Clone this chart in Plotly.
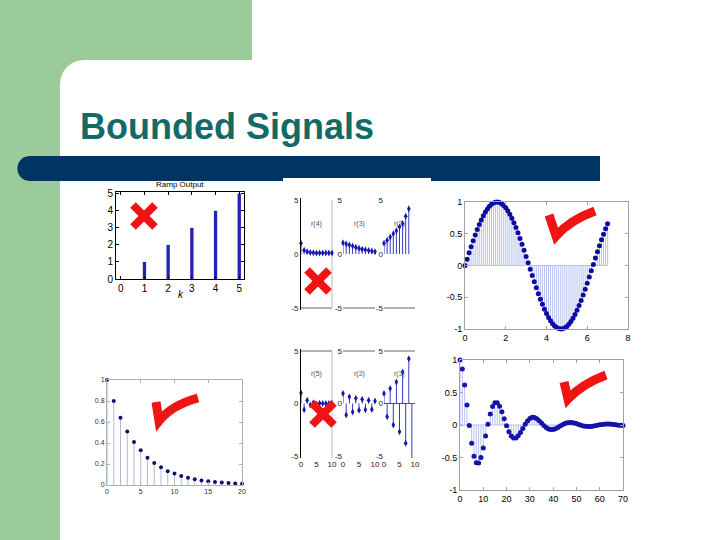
import plotly.graph_objects as go

W, H = 720, 540

# ---- data ----
ramp_k = [0, 1, 2, 3, 4, 5]
ramp_y = [0, 1, 2, 3, 4, 5]

decay_n = list(range(21))
decay_y = [1.0, 0.8, 0.64, 0.51, 0.41, 0.33, 0.26, 0.21, 0.17, 0.13, 0.11,
           0.086, 0.069, 0.055, 0.044, 0.035, 0.028, 0.023, 0.018, 0.014, 0.012]

sine_t = [i / 10 for i in range(71)]
sine_y = [0.0, 0.1, 0.199, 0.296, 0.389, 0.479, 0.565, 0.644, 0.717, 0.783, 0.841,
          0.891, 0.932, 0.964, 0.985, 0.997, 1.0, 0.992, 0.974, 0.946, 0.909,
          0.863, 0.808, 0.746, 0.675, 0.598, 0.516, 0.427, 0.335, 0.239, 0.141,
          0.042, -0.058, -0.158, -0.256, -0.351, -0.443, -0.53, -0.612, -0.688, -0.757,
          -0.818, -0.872, -0.916, -0.952, -0.978, -0.994, -1.0, -0.996, -0.982, -0.959,
          -0.926, -0.883, -0.832, -0.773, -0.706, -0.631, -0.551, -0.465, -0.374, -0.279,
          -0.182, -0.083, 0.017, 0.117, 0.215, 0.312, 0.405, 0.494, 0.578, 0.657]

damp_n = list(range(71))
damp_y = [1.0, 0.863, 0.615, 0.308, -0.007, -0.281, -0.479, -0.581, -0.584, -0.5, -0.352,
          -0.171, 0.012, 0.171, 0.284, 0.341, 0.341, 0.29, 0.202, 0.095, -0.012,
          -0.104, -0.169, -0.201, -0.199, -0.167, -0.116, -0.053, 0.01, 0.063, 0.1,
          0.118, 0.116, 0.097, 0.066, 0.029, -0.007, -0.038, -0.06, -0.069, -0.068,
          -0.056, -0.038, -0.016, 0.005, 0.023, 0.035, 0.04, 0.04, 0.032, 0.022,
          0.009, -0.004, -0.014, -0.021, -0.024, -0.023, -0.019, -0.012, -0.005, 0.002,
          0.009, 0.013, 0.015, 0.014, 0.011, 0.007, 0.003, -0.002, -0.005, -0.007]

# middle picture: six small panels (top row, bottom row)
mid_top = [
    [1.0, 0.35, 0.2, 0.15, 0.12, 0.1, 0.1, 0.1, 0.1, 0.1, 0.1],
    [1.05, 0.92, 0.83, 0.74, 0.63, 0.54, 0.45, 0.39, 0.33, 0.27, 0.21],
    [1.0, 1.27, 1.58, 1.88, 2.17, 2.53, 2.83, 3.5, 4.2],
]
mid_bot = [
    [1.0, -0.6, 0.3, -0.15, 0.08, -0.04, 0.02, -0.01, 0.0, 0.0, 0.0],
    [0.95, -1.1, 0.65, -0.8, 0.5, -0.65, 0.4, -0.6, 0.32, -0.57, 0.25],
    [0.95, -1.27, 1.42, -2.06, 2.06, -2.69, 3.0, -3.8, 4.27, -5.3],
]
mid_lab_top = ["r(4)", "r(3)", "r(2)"]
mid_lab_bot = ["r(5)", "r(2)", "r(3)"]

FONT = "Liberation Sans, Arial, sans-serif"


def dom(x0, x1, y0, y1):
    # pixel box -> paper domains
    return [x0 / W, x1 / W], [1 - y1 / H, 1 - y0 / H]


def stem_xy(x, y):
    xs, ys = [], []
    for a, b in zip(x, y):
        xs += [a, a, None]
        ys += [0, b, None]
    return xs, ys


def ppath(pts, close=True):
    # pixel points -> paper path (straight segments)
    s = "M" + " L".join("%.5f,%.5f" % (x / W, 1 - y / H) for x, y in pts)
    return s + (" Z" if close else "")


fig = go.Figure()
layout = {}

# pixel overlay axis for the slide decoration
layout["xaxis"] = dict(domain=[0, 1], range=[0, W], visible=False, fixedrange=True,
                       automargin=False)
layout["yaxis"] = dict(domain=[0, 1], range=[H, 0], visible=False, fixedrange=True,
                       automargin=False)
fig.add_trace(go.Scatter(x=[0], y=[0], mode="markers", marker=dict(opacity=0),
                         hoverinfo="skip", xaxis="x", yaxis="y"))


def add_axes(i, box, xr, yr, xt, yt, xlab=None, ylab=None, linecolor="black",
             fsize=9, fcolor="black", mirror="ticks", showline=True, ticks="inside"):
    dx, dy = dom(*box)
    xl = dict(domain=dx, range=xr, anchor="y%d" % i, tickvals=xt, ticktext=xlab,
              ticks=ticks, ticklen=3, tickcolor=linecolor, showline=showline,
              linecolor=linecolor, linewidth=1, mirror=mirror, showgrid=False,
              zeroline=False, automargin=False,
              tickfont=dict(family=FONT, size=fsize, color=fcolor))
    yl = dict(domain=dy, range=yr, anchor="x%d" % i, tickvals=yt, ticktext=ylab,
              ticks=ticks, ticklen=3, tickcolor=linecolor, showline=showline,
              linecolor=linecolor, linewidth=1, mirror=mirror, showgrid=False,
              zeroline=False, automargin=False,
              tickfont=dict(family=FONT, size=fsize, color=fcolor))
    layout["xaxis%d" % i] = xl
    layout["yaxis%d" % i] = yl


# ---- ramp output (top left) ----
add_axes(2, (116, 244, 192, 279), [-0.2, 5.2], [0, 5.1], ramp_k, [0, 1, 2, 3, 4, 5],
         fsize=10)
fig.add_trace(go.Bar(x=ramp_k, y=ramp_y, width=0.14, marker=dict(color="#2323b5", line_width=0),
                     xaxis="x2", yaxis="y2"))

# ---- middle picture: 6 panels ----
cols = [(301, 332), (343, 375), (384, 415)]
rows = [(198, 310), (349, 458)]
idx = 3
for r, (series, labels) in enumerate([(mid_top, mid_lab_top), (mid_bot, mid_lab_bot)]):
    for c in range(3):
        x0, x1 = cols[c]
        y0, y1 = rows[r]
        add_axes(idx, (x0, x1, y0, y1), [0, 10], [-5.2, 5.2],
                 [0, 5, 10] if r == 1 else [], [-5, 0, 5],
                 xlab=["0", "5", "10"] if r == 1 else None, ylab=["-5", "0", "5"],
                 fsize=8, fcolor="#222", showline=False, ticks="", mirror=False)
        if c == 0:
            layout["yaxis%d" % idx].update(showline=True, linecolor="black")
        if r == 1 and c == 2:
            layout["yaxis%d" % idx].update(zeroline=True, zerolinecolor="#555", zerolinewidth=1)
        vals = series[c]
        n = list(range(len(vals)))
        sx, sy = stem_xy(n, vals)
        fig.add_trace(go.Scatter(x=sx, y=sy, mode="lines", line=dict(color="#3a3ac0", width=1),
                                 xaxis="x%d" % idx, yaxis="y%d" % idx, cliponaxis=False))
        fig.add_trace(go.Scatter(x=n, y=vals, mode="markers", cliponaxis=False,
                                 marker=dict(color="#1818b0", size=5, symbol="diamond-tall"),
                                 xaxis="x%d" % idx, yaxis="y%d" % idx))
        layout.setdefault("annotations", []).append(dict(
            x=5, y=2.8, xref="x%d" % idx, yref="y%d" % idx, text=labels[c], showarrow=False,
            font=dict(family=FONT, size=7, color="#555")))
        idx += 1

# ---- sine (top right) ----
add_axes(9, (465, 628, 202, 329), [0, 8], [-1, 1], [0, 2, 4, 6, 8], [-1, -0.5, 0, 0.5, 1],
         ylab=["-1", "-0.5", "0", "0.5", "1"], linecolor="#a0a0a0", fsize=9)
sx, sy = stem_xy(sine_t, sine_y)
fig.add_trace(go.Scatter(x=sx, y=sy, mode="lines", line=dict(color="#b9bff0", width=1),
                         xaxis="x9", yaxis="y9"))
fig.add_trace(go.Scatter(x=[sine_t[0], sine_t[-1]], y=[0, 0], mode="lines",
                         line=dict(color="#b9bff0", width=1), xaxis="x9", yaxis="y9"))
fig.add_trace(go.Scatter(x=sine_t, y=sine_y, mode="markers", cliponaxis=False,
                         marker=dict(color="#0c0ca5", size=5), xaxis="x9", yaxis="y9"))

# ---- geometric decay (bottom left) ----
add_axes(10, (107, 242, 380, 485), [0, 20], [0, 1], [0, 5, 10, 15, 20],
         [0, 0.2, 0.4, 0.6, 0.8, 1], ylab=["0", "0.2", "0.4", "0.6", "0.8", "1"],
         linecolor="#b0b0b0", fsize=7, fcolor="#333")
sx, sy = stem_xy(decay_n, decay_y)
fig.add_trace(go.Scatter(x=sx, y=sy, mode="lines", line=dict(color="#b4bad6", width=1),
                         xaxis="x10", yaxis="y10"))
fig.add_trace(go.Scatter(x=decay_n, y=decay_y, mode="markers", cliponaxis=False,
                         marker=dict(color="#10106e", size=4), xaxis="x10", yaxis="y10"))

# ---- damped oscillation (bottom right) ----
add_axes(11, (460, 623, 360, 490), [0, 70], [-1, 1], [0, 10, 20, 30, 40, 50, 60, 70],
         [-1, -0.5, 0, 0.5, 1], ylab=["-1", "-0.5", "0", "0.5", "1"],
         linecolor="#a0a0a0", fsize=9)
sx, sy = stem_xy(damp_n, damp_y)
fig.add_trace(go.Scatter(x=sx, y=sy, mode="lines", line=dict(color="#b9bff0", width=1),
                         xaxis="x11", yaxis="y11"))
fig.add_trace(go.Scatter(x=[damp_n[0], damp_n[-1]], y=[0, 0], mode="lines",
                         line=dict(color="#b9bff0", width=1), xaxis="x11", yaxis="y11"))
fig.add_trace(go.Scatter(x=damp_n, y=damp_y, mode="markers", cliponaxis=False,
                         marker=dict(color="#1414a8", size=5), xaxis="x11", yaxis="y11"))

# ---- slide decoration ----
green = "#9ccb9b"
navy = "#003563"
red = "#f01414"
# green band with the rounded inner corner, in paper coords (not clipped)
arc = [(0, 1), (0.259, 0.966), (0.5, 0.866), (0.707, 0.707), (0.866, 0.5), (0.966, 0.259), (1, 0)]
corner = [(84 - 24 * c, 84 - 24 * s) for c, s in arc]
green_pts = [(-30, -30), (252, -30), (252, 60)] + corner + [(60, 570), (-30, 570)]
shapes = [
    dict(type="path", layer="below", xref="paper", yref="paper", line_width=0, fillcolor=green,
         path=ppath(green_pts)),
    dict(type="path", layer="below", xref="x", yref="y", line_width=0, fillcolor=navy,
         path="M30.5,156 H600 V181 H30.5 C13,181 13,156 30.5,156 Z"),
    dict(type="rect", layer="below", xref="x", yref="y", line_width=0, fillcolor="white",
         x0=283, x1=431, y0=178, y1=482),
    # middle picture frame lines
    dict(type="line", layer="below", xref="x", yref="y", x0=301, x1=332, y0=308, y1=308,
         line=dict(color="#666", width=1)),
    dict(type="line", layer="below", xref="x", yref="y", x0=343, x1=375, y0=308, y1=308,
         line=dict(color="#666", width=1)),
    dict(type="line", layer="below", xref="x", yref="y", x0=384, x1=415, y0=308, y1=308,
         line=dict(color="#666", width=1)),
    dict(type="line", layer="below", xref="x", yref="y", x0=332, x1=332, y0=200, y1=308,
         line=dict(color="#bbb", width=1)),
    dict(type="line", layer="below", xref="x", yref="y", x0=301, x1=332, y0=351, y1=351,
         line=dict(color="#666", width=1)),
    dict(type="line", layer="below", xref="x", yref="y", x0=343, x1=375, y0=351, y1=351,
         line=dict(color="#666", width=1)),
    dict(type="line", layer="below", xref="x", yref="y", x0=384, x1=415, y0=351, y1=351,
         line=dict(color="#666", width=1)),
    dict(type="line", layer="below", xref="x", yref="y", x0=332, x1=332, y0=351, y1=458,
         line=dict(color="#bbb", width=1)),
]

# red crosses
for cx, cy in [(144, 216), (318, 281), (323, 414)]:
    for s in (1, -1):
        shapes.append(dict(type="line", xref="x", yref="y", layer="above",
                           x0=cx - 11, x1=cx + 11, y0=cy - 11 * s, y1=cy + 11 * s,
                           line=dict(color=red, width=8)))
# red ticks
for p in ["M549,215 L556,236 Q570,220 595,211",
          "M156,402 L159,421 Q172,405 198,398",
          "M564,382 L568,399 Q582,384 606,375"]:
    shapes.append(dict(type="path", xref="x", yref="y", layer="above", path=p,
                       line=dict(color=red, width=9)))

anns = layout.pop("annotations")
anns += [
    dict(x=78, y=126, xref="x", yref="y", text="<b>Bounded Signals</b>", showarrow=False,
         xanchor="left", yanchor="middle",
         font=dict(family=FONT, size=36, color="#126b69")),
    dict(x=180, y=184, xref="x", yref="y", text="Ramp Output", showarrow=False,
         font=dict(family=FONT, size=8, color="black")),
    dict(x=181, y=294, xref="x", yref="y", text="<i>k</i>", showarrow=False,
         font=dict(family=FONT, size=10, color="black")),
]

fig.update_layout(
    width=W, height=H, margin=dict(l=0, r=0, t=0, b=0),
    paper_bgcolor="white", plot_bgcolor="rgba(0,0,0,0)",
    showlegend=False, shapes=shapes, annotations=anns, **layout,
)

fig.write_html("out.html", config={"displayModeBar": False},
               post_script="document.body.style.margin='0';document.body.style.overflow='hidden';")
